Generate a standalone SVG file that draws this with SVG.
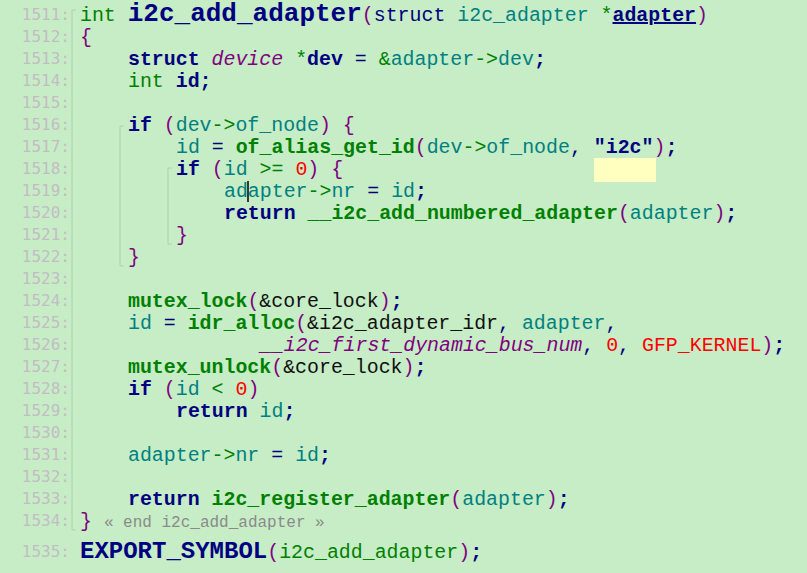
<svg xmlns="http://www.w3.org/2000/svg" width="807" height="573" viewBox="0 0 807 573">
<style>
.c{font-family:"Liberation Mono","DejaVu Sans Mono",monospace;font-size:19.9px;white-space:pre}
.n{font-family:"DejaVu Sans Mono",monospace;font-size:16px;fill:#c4bcc4;text-anchor:end}
.k{fill:#000080;font-weight:bold}
.g{fill:#008000}
.gb{fill:#008000;font-weight:bold}
.p{fill:#800080}
.t{fill:#008080}
.r{fill:#ff0000}
.b{fill:#101010}
.it{font-style:italic}
.gl{stroke:#b0d0b0;fill:none;stroke-width:1}
</style>
<rect width="807" height="573" fill="#c6edc6"/>
<g id="gutter">
<text class="n" x="70" y="20">1511:</text>
<text class="n" x="70" y="42">1512:</text>
<text class="n" x="70" y="64">1513:</text>
<text class="n" x="70" y="86">1514:</text>
<text class="n" x="70" y="108">1515:</text>
<text class="n" x="70" y="130">1516:</text>
<text class="n" x="70" y="152">1517:</text>
<text class="n" x="70" y="174">1518:</text>
<text class="n" x="70" y="196">1519:</text>
<text class="n" x="70" y="218">1520:</text>
<text class="n" x="70" y="240">1521:</text>
<text class="n" x="70" y="262">1522:</text>
<text class="n" x="70" y="284">1523:</text>
<text class="n" x="70" y="306">1524:</text>
<text class="n" x="70" y="328">1525:</text>
<text class="n" x="70" y="350">1526:</text>
<text class="n" x="70" y="372">1527:</text>
<text class="n" x="70" y="394">1528:</text>
<text class="n" x="70" y="416">1529:</text>
<text class="n" x="70" y="438">1530:</text>
<text class="n" x="70" y="460">1531:</text>
<text class="n" x="70" y="482">1532:</text>
<text class="n" x="70" y="504">1533:</text>
<text class="n" x="70" y="526">1534:</text>
<text class="n" x="70" y="557">1535:</text>
<path class="gl" d="M76 10 H72 V530 H76 M124 126 H120 V266 H124 M172 168 H168 V244 H172"/>
</g>
<rect x="594" y="158" width="62" height="24" fill="#ffffc0"/>
<line x1="248" y1="181" x2="248" y2="202" stroke="#000" stroke-width="1.5"/>
<g id="code" class="c">
<text x="80" y="21"><tspan class="g">int </tspan><tspan class="k" style="font-size:26px">i2c_add_adapter</tspan><tspan class="p">(</tspan><tspan class="k" style="font-weight:normal">struct </tspan><tspan class="t">i2c_adapter </tspan><tspan class="g">*</tspan><tspan class="k" text-decoration="underline">adapter</tspan><tspan class="p">)</tspan></text>
<text x="80" y="43" class="p">{</text>
<text x="128" y="65"><tspan class="k">struct </tspan><tspan class="p it">device </tspan><tspan class="g">*</tspan><tspan class="k">dev</tspan><tspan class="k" style="font-weight:normal"> = </tspan><tspan class="g">&amp;</tspan><tspan class="t">adapter</tspan><tspan class="g">-&gt;</tspan><tspan class="t">dev</tspan><tspan class="k">;</tspan></text>
<text x="128" y="87"><tspan class="g">int </tspan><tspan class="k">id;</tspan></text>
<text x="128" y="131"><tspan class="k">if </tspan><tspan class="p">(</tspan><tspan class="t">dev</tspan><tspan class="g">-&gt;</tspan><tspan class="t">of_node</tspan><tspan class="p">) {</tspan></text>
<text x="176" y="153"><tspan class="t">id </tspan><tspan class="k" style="font-weight:normal">= </tspan><tspan class="gb">of_alias_get_id</tspan><tspan class="p">(</tspan><tspan class="t">dev</tspan><tspan class="g">-&gt;</tspan><tspan class="t">of_node</tspan><tspan class="k" style="font-weight:normal">, </tspan><tspan class="k">"i2c"</tspan><tspan class="p">)</tspan><tspan class="k">;</tspan></text>
<text x="176" y="175"><tspan class="k">if </tspan><tspan class="p">(</tspan><tspan class="t">id </tspan><tspan class="g">&gt;= </tspan><tspan class="r">0</tspan><tspan class="p">) {</tspan></text>
<text x="224" y="197"><tspan class="t">adapter</tspan><tspan class="g">-&gt;</tspan><tspan class="t">nr </tspan><tspan class="k" style="font-weight:normal">= </tspan><tspan class="t">id</tspan><tspan class="k">;</tspan></text>
<text x="224" y="219"><tspan class="k">return </tspan><tspan class="gb">__i2c_add_numbered_adapter</tspan><tspan class="p">(</tspan><tspan class="t">adapter</tspan><tspan class="p">)</tspan><tspan class="k">;</tspan></text>
<text x="176" y="241" class="p">}</text>
<text x="128" y="263" class="p">}</text>
<text x="128" y="307"><tspan class="gb">mutex_lock</tspan><tspan class="p">(</tspan><tspan class="b">&amp;core_lock</tspan><tspan class="p">)</tspan><tspan class="k">;</tspan></text>
<text x="128" y="329"><tspan class="t">id </tspan><tspan class="k" style="font-weight:normal">= </tspan><tspan class="gb">idr_alloc</tspan><tspan class="p">(</tspan><tspan class="b">&amp;i2c_adapter_idr</tspan><tspan class="k" style="font-weight:normal">, </tspan><tspan class="t">adapter</tspan><tspan class="k" style="font-weight:normal">,</tspan></text>
<text x="260" y="351"><tspan class="p it">__i2c_first_dynamic_bus_num</tspan><tspan class="k" style="font-weight:normal">, </tspan><tspan class="r">0</tspan><tspan class="k" style="font-weight:normal">, </tspan><tspan class="r">GFP_KERNEL</tspan><tspan class="p">)</tspan><tspan class="k">;</tspan></text>
<text x="128" y="373"><tspan class="gb">mutex_unlock</tspan><tspan class="p">(</tspan><tspan class="b">&amp;core_lock</tspan><tspan class="p">)</tspan><tspan class="k">;</tspan></text>
<text x="128" y="395"><tspan class="k">if </tspan><tspan class="p">(</tspan><tspan class="t">id </tspan><tspan class="g">&lt; </tspan><tspan class="r">0</tspan><tspan class="p">)</tspan></text>
<text x="176" y="417"><tspan class="k">return </tspan><tspan class="t">id</tspan><tspan class="k">;</tspan></text>
<text x="128" y="461"><tspan class="t">adapter</tspan><tspan class="g">-&gt;</tspan><tspan class="t">nr </tspan><tspan class="k" style="font-weight:normal">= </tspan><tspan class="t">id</tspan><tspan class="k">;</tspan></text>
<text x="128" y="505"><tspan class="k">return </tspan><tspan class="gb">i2c_register_adapter</tspan><tspan class="p">(</tspan><tspan class="t">adapter</tspan><tspan class="p">)</tspan><tspan class="k">;</tspan></text>
<text x="80" y="527"><tspan class="p">} </tspan><tspan fill="#8a8a8a" style="font-size:16px">« end i2c_add_adapter »</tspan></text>
<text x="80" y="558"><tspan class="k" style="font-size:24px">EXPORT_SYMBOL</tspan><tspan class="p">(</tspan><tspan class="g">i2c_add_adapter</tspan><tspan class="p">)</tspan><tspan class="k">;</tspan></text>
</g>
</svg>
